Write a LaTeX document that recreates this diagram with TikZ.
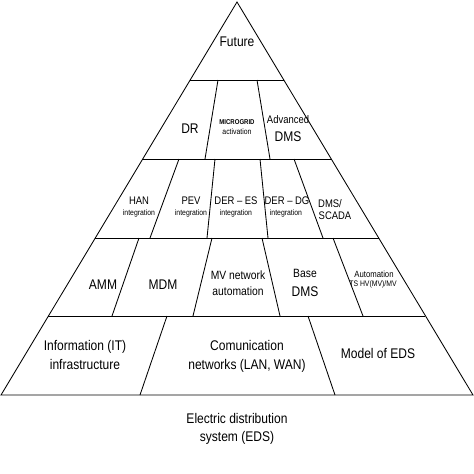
\documentclass[tikz,border=0pt]{standalone}
\usepackage{fontspec}
\setmainfont{Liberation Sans}[FakeStretch=0.86]
\begin{document}
\begin{tikzpicture}[x=1pt,y=-1pt,line width=0.85pt,
  txt/.style={anchor=base,inner sep=0pt,align=center},
  big/.style={txt,font=\fontsize{14}{20}\selectfont},
  med/.style={txt,font=\fontsize{12}{16}\selectfont},
  sml/.style={txt,font=\fontsize{11}{13}\selectfont},
  tny/.style={txt,font=\fontsize{8}{10}\selectfont},
  tnyb/.style={txt,font=\bfseries\fontsize{7}{9}\selectfont}]
\useasboundingbox (0,0) rectangle (474,474);
% outline
\coordinate (apex) at (237,2);
\coordinate (bl) at (1,395);
\coordinate (br) at (473,395);
\draw (apex) -- (bl) -- (br) -- cycle;
% tier separators
\coordinate (l1) at (190.4,80);  \coordinate (r1) at (283.8,80);
\coordinate (l2) at (143,159);   \coordinate (r2) at (331.3,159);
\coordinate (l3) at (95,238);    \coordinate (r3) at (378.7,238);
\coordinate (l4) at (48,316);    \coordinate (r4) at (424.5,316);
\draw (l1) -- (r1);
\draw (l2) -- (r2);
\draw (l3) -- (r3);
\draw (l4) -- (r4);
% tier 2 dividers
\draw (218,80) -- (205,159);
\draw (257,80) -- (270,159);
% tier 3 dividers
\draw (179,159) -- (150,238);
\draw (215,159) -- (207,238);
\draw (260,159) -- (268,238);
\draw (294,159) -- (323,238);
% tier 4 dividers
\draw (139,238) -- (112,316);
\draw (212,238) -- (193,316);
\draw (262,238) -- (280,316);
\draw (333,238) -- (363,316);
% tier 5 dividers
\draw (167,316) -- (140,395);
\draw (308,316) -- (335,395);
% texts
\node[big] (future) at (237,46) {Future};
\node[big] (dr) at (190,133) {DR};
\node[tnyb] (micro) at (237,124) {MICROGRID};
\node[tny] (activ) at (237,134) {activation};
\node[sml] (adv) at (288,123) {Advanced};
\node[big] (advdms) at (288,141) {DMS};
\node[sml] (han) at (139,204) {HAN};
\node[tny] (hanint) at (139,215) {integration};
\node[sml] (pev) at (191,204) {PEV};
\node[tny] (pevint) at (191,215) {integration};
\node[sml] (deres) at (236,204) {DER -- ES};
\node[tny] (deresint) at (236,215) {integration};
\node[sml] (derdg) at (287,204) {DER -- DG};
\node[tny] (derdgint) at (286,215) {integration};
\node[sml] (dms) at (330,207) {DMS/};
\node[sml] (scada) at (335,219) {SCADA};
\node[big] (amm) at (103,289) {AMM};
\node[big] (mdm) at (163,289) {MDM};
\node[med] (mvnet) at (238,279) {MV network};
\node[med] (mvaut) at (238,295) {automation};
\node[med] (base) at (305,277) {Base};
\node[big] (basedms) at (305,296) {DMS};
\node[tny,font=\fontsize{9}{10}\selectfont] (autom) at (374,277) {Automation};
\node[tny] (tshv) at (373,286) {TS HV(MV)/MV};
\node[big] (info) at (85,350) {Information (IT)};
\node[big] (infra) at (85,369) {infrastructure};
\node[big] (comm) at (247,350) {Comunication};
\node[big] (netw) at (247,369) {networks (LAN, WAN)};
\node[big] (model) at (378,358) {Model of EDS};
\node[big] (eds1) at (237,423) {Electric distribution};
\node[big] (eds2) at (237,441) {system (EDS)};
\end{tikzpicture}
\end{document}
